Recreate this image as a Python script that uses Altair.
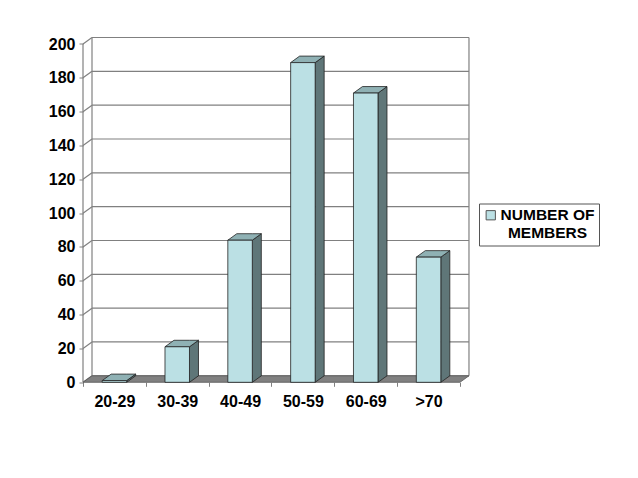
import json
import altair as alt
import pandas as pd

# ---- data ----
categories = ["20-29", "30-39", "40-49", "50-59", "60-69", ">70"]
members = [1, 21, 84, 189, 171, 74]
y_ticks = [0, 20, 40, 60, 80, 100, 120, 140, 160, 180, 200]
series_name = "NUMBER OF MEMBERS"

# ---- style / geometry ----
FONT = "Liberation Sans"
FRONT = "#BBE0E4"
TOP = "#8FB1B4"
SIDE = "#5F7678"
FLOOR = "#808080"
GRID = "#808080"

UNIT_PX = 62.83      # px per category slot
Y_PX = 1.6915        # px per unit value
DX = 9 / UNIT_PX     # depth offset in x units
DY = 6.5 / Y_PX      # depth offset in y units
BW = 0.39            # bar width in slot units
N = len(categories)
YTOP = max(y_ticks)
XMAX = N + DX
YMAX = YTOP + DY
W = XMAX * UNIT_PX
H = YMAX * Y_PX

# ---- tables built from the arrays ----
front = pd.DataFrame({
    "cat": categories,
    "v": members,
    "series": series_name,
    "x0": [i + 0.5 - BW / 2 for i in range(N)],
    "x1": [i + 0.5 + BW / 2 for i in range(N)],
    "y0": 0,
})

side_rows, top_rows = [], []
for i, v in enumerate(members):
    xl = i + 0.5 - BW / 2
    xr = i + 0.5 + BW / 2
    side_rows += [
        {"bar": i, "x": xr, "lo": 0, "hi": v},
        {"bar": i, "x": xr + DX, "lo": DY, "hi": v + DY},
    ]
    top_rows += [
        {"bar": i, "x": xl, "lo": v, "hi": v},
        {"bar": i, "x": xl + DX, "lo": v, "hi": v + DY},
        {"bar": i, "x": xr, "lo": v, "hi": v + DY},
        {"bar": i, "x": xr + DX, "lo": v + DY, "hi": v + DY},
    ]
side = pd.DataFrame(side_rows)
top = pd.DataFrame(top_rows)

floor = pd.DataFrame({
    "x": [0, DX, N, N + DX],
    "lo": [0, 0, 0, DY],
    "hi": [0, DY, DY, DY],
})

grid = pd.DataFrame({"x": DX, "x2": N + DX, "y": [t + DY for t in y_ticks]})
diag = pd.DataFrame({"x": 0.0, "x2": DX, "y": y_ticks, "y2": [t + DY for t in y_ticks]})
verts = pd.DataFrame({
    "x": [0, DX, N + DX],
    "y": [0, DY, DY],
    "y2": [YTOP, YTOP + DY, YTOP + DY],
})

xscale = alt.Scale(domain=[0, XMAX], nice=False, zero=False)
yscale = alt.Scale(domain=[0, YMAX], nice=False, zero=False)

cats_js = json.dumps(categories)
x_axis = alt.Axis(
    values=list(range(N + 1)),
    labelExpr=f"datum.value < {N} ? {cats_js}[datum.value] : ''",
    labelOffset=UNIT_PX / 2,
    labelFlush=False,
    labelOverlap=False,
    labelAlign="center",
    tickSize=4,
    tickColor=GRID,
    domain=False,
    grid=False,
    title=None,
    labelFont=FONT,
    labelFontWeight="bold",
    labelFontSize=16,
    labelColor="black",
    labelPadding=7,
)
y_axis = alt.Axis(
    values=y_ticks,
    tickSize=4,
    tickColor=GRID,
    domain=False,
    grid=False,
    title=None,
    labelFont=FONT,
    labelFontWeight="bold",
    labelFontSize=16,
    labelColor="black",
    labelPadding=4,
)


def X(field):
    return alt.X(field, type="quantitative", scale=xscale, axis=x_axis)


def Y(field):
    return alt.Y(field, type="quantitative", scale=yscale, axis=y_axis)


grid_layer = alt.Chart(grid).mark_rule(color=GRID, strokeWidth=1.2).encode(
    x=X("x"), x2="x2", y=Y("y")
)
diag_layer = alt.Chart(diag).mark_rule(color=GRID, strokeWidth=1.2).encode(
    x=X("x"), x2="x2", y=Y("y"), y2="y2"
)
vert_layer = alt.Chart(verts).mark_rule(color=GRID, strokeWidth=1.2).encode(
    x=X("x"), y=Y("y"), y2="y2"
)
floor_layer = alt.Chart(floor).mark_area(
    color=FLOOR, stroke="#555555", strokeWidth=0.8, opacity=1
).encode(x=X("x"), y=Y("lo"), y2="hi")

side_layer = alt.Chart(side).mark_area(
    color=SIDE, stroke="#222222", strokeWidth=0.8, opacity=1
).encode(x=X("x"), y=Y("lo"), y2="hi", detail="bar:N")

top_layer = alt.Chart(top).mark_area(
    color=TOP, stroke="#222222", strokeWidth=0.8, opacity=1
).encode(x=X("x"), y=Y("lo"), y2="hi", detail="bar:N")

front_layer = alt.Chart(front).mark_rect(
    stroke="#222222", strokeWidth=0.8, opacity=1
).encode(
    x=X("x0"), x2="x1", y=Y("y0"), y2="v",
    color=alt.Color(
        "series:N",
        scale=alt.Scale(domain=[series_name], range=[FRONT]),
        legend=alt.Legend(
            title=None,
            orient="none",
            legendX=396,
            legendY=166,
            strokeColor="#555555",
            padding=4,
            symbolType="square",
            symbolSize=86,
            symbolStrokeColor="#555555",
            symbolStrokeWidth=1,
            symbolOpacity=1,
            labelFont=FONT,
            labelFontWeight="bold",
            labelFontSize=15.5,
            labelColor="black",
            labelLimit=300,
            labelAlign="center",
            labelOffset=49,
            labelExpr="[slice(datum.label, 0, 9), slice(datum.label, 10)]",
        ),
    ),
)

chart = alt.layer(
    grid_layer, diag_layer, vert_layer, floor_layer, side_layer, top_layer, front_layer
).properties(
    width=W,
    height=H,
    autosize=alt.AutoSizeParams(type="none"),
    padding={"left": 75, "top": 29.5, "right": 638 - 16 - 75 - W, "bottom": 478 - 16 - 29.5 - H},
    background="white",
).configure_view(stroke=None)

chart.save("out.html", embed_options={"renderer": "svg", "actions": False})
